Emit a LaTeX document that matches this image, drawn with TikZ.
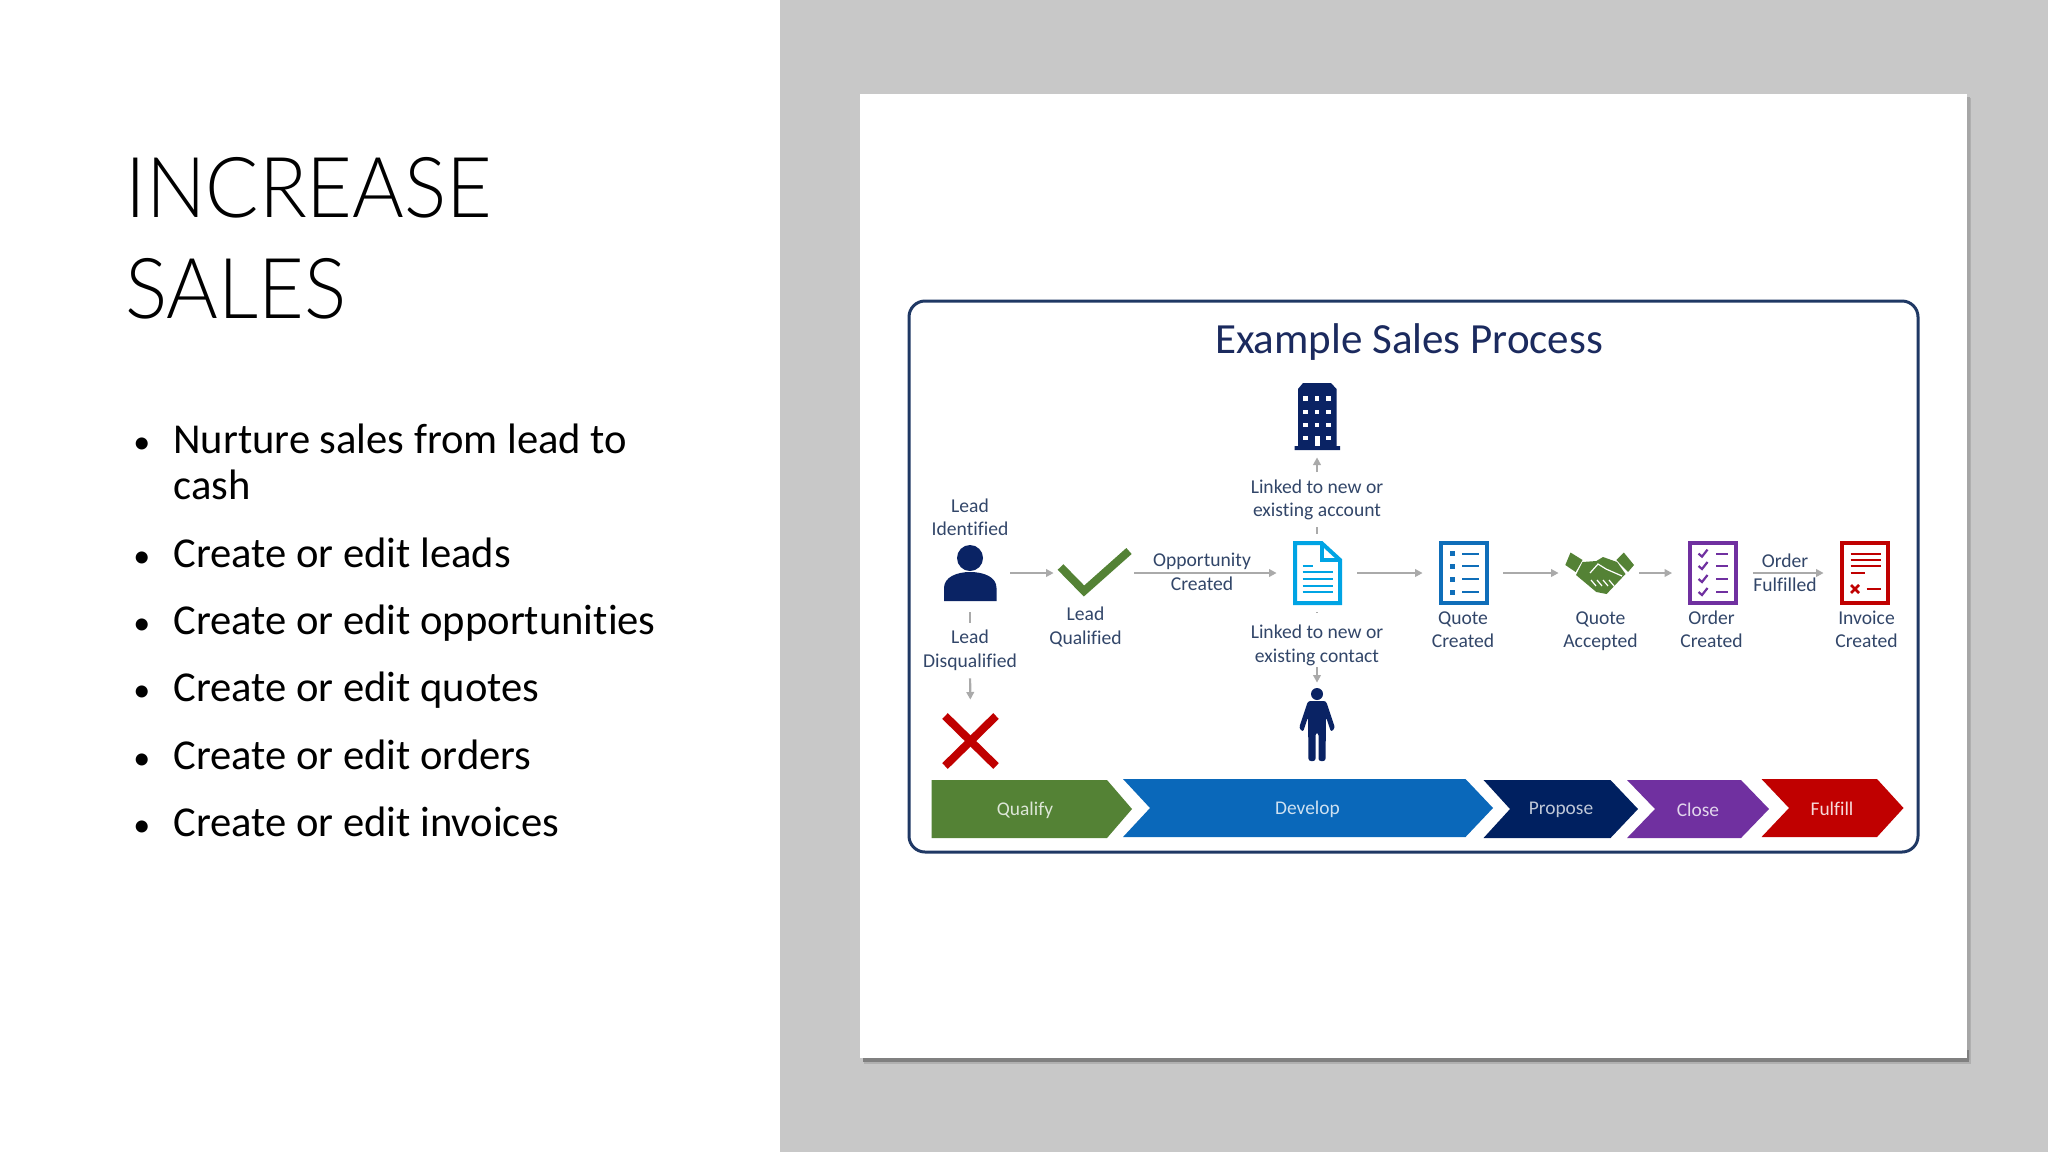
\documentclass[tikz,border=0pt]{standalone}
\usepackage{fontspec}
\setmainfont{Carlito}[Ligatures=NoCommon]
\newfontfamily\lightfont{Lato Light}[Ligatures=NoCommon,FakeStretch=0.94]
\usetikzlibrary{arrows.meta}
\definecolor{panelgrey}{RGB}{200,200,200}
\definecolor{framenavy}{RGB}{31,56,100}
\definecolor{titlenavy}{RGB}{27,42,94}
\definecolor{labelnavy}{RGB}{50,70,105}
\definecolor{iconnavy}{RGB}{10,35,100}
\definecolor{flowgrey}{RGB}{170,170,170}
\definecolor{leafgreen}{RGB}{84,130,53}
\definecolor{docblue}{RGB}{0,164,228}
\definecolor{quoteblue}{RGB}{15,110,185}
\definecolor{stageblue}{RGB}{10,104,186}
\definecolor{stagenavy}{RGB}{0,32,96}
\definecolor{stagepurple}{RGB}{112,48,160}
\definecolor{stagered}{RGB}{192,0,0}
\tikzset{
  stepname/.style={inner sep=0pt,align=center,anchor=base,text=labelnavy,font=\fontsize{9.8}{11.65}\selectfont,text depth=2.5pt,text height=18pt},
  iconbox/.style={inner sep=0pt,minimum height=39pt,minimum width=40pt},
  flow/.style={draw=flowgrey,line width=1.1pt,-{Triangle[length=3.8pt,width=3.8pt]}},
  flowstub/.style={draw=flowgrey,line width=1.1pt},
  stagename/.style={inner sep=0pt,font=\fontsize{9.7}{11}\selectfont},
  slidebullet/.style={inner sep=0pt,anchor=base west,font=\fontsize{21.3}{25}\selectfont},
  slidehead/.style={inner sep=0pt,anchor=base west,font=\lightfont\fontsize{42}{50.5}\selectfont}
}
\begin{document}
\begin{tikzpicture}[x=0.5pt,y=-0.5pt]
\useasboundingbox (0,0) rectangle (2048,1152);
\fill[white] (0,0) rectangle (2048,1152);
\fill[panelgrey] (780,0) rectangle (2048,1152);
\fill[panelgrey!88!black] (864,98) rectangle (1971,1064);
\fill[black!35] (1960,97) rectangle (1970,1060);
\fill[black!50] (863,1050) rectangle (1969,1062);
\fill[white] (860,94) rectangle (1967,1058);
\draw[framenavy,line width=1.5pt,rounded corners=8pt] (909,301) rectangle (1918,852);

\node[slidehead] (slidetitle) at (125,217) {INCREASE};
\node[slidehead] (slidetitlenext) at (125,318) {SALES};
\foreach \ypos/\bullettext in {453/Nurture sales from lead to,567/Create or edit leads,634/Create or edit opportunities,701/Create or edit quotes,769/Create or edit orders,836/Create or edit invoices} {
  \node[slidebullet,font=\fontsize{17}{20}\selectfont] at (133,\ypos) {•};
  \node[slidebullet] at (173,\ypos) {\bullettext};
}
\node[slidebullet] (cashline) at (173,499) {cash};

\node[inner sep=0pt,anchor=base,text=titlenavy,font=\fontsize{21.5}{25}\selectfont] (chart) at (1409,353) {Example Sales Process};

\node[iconbox] (lead) at (970,573) {};
\node[iconbox] (check) at (1094,573) {};
\node[iconbox] (doc) at (1317,573) {};
\node[iconbox] (quote) at (1463,573) {};
\node[iconbox] (hands) at (1599,573) {};
\node[iconbox] (order) at (1712.5,573) {};
\node[iconbox] (invoice) at (1864,573) {};
\node[inner sep=0pt,minimum width=23pt,minimum height=34pt] (building) at (1317,417) {};
\node[inner sep=0pt,minimum width=18pt,minimum height=40pt] (contact) at (1317,723) {};
\node[inner sep=0pt,minimum width=28pt,minimum height=27pt] (cross) at (970.5,741) {};

\node[stepname] (leadnew) at (970,535.5) {Lead\\Identified};
\node[stepname] (leadlost) at (970,667) {Lead\\Disqualified};
\node[stepname] (leadgood) at (1085.5,644) {Lead\\Qualified};
\node[stepname] (oppnew) at (1202,590) {Opportunity\\Created};
\node[stepname] (acctlink) at (1317,516.5) {Linked to new or\\existing account};
\node[stepname] (contlink) at (1317,662) {Linked to new or\\existing contact};
\node[stepname] (quotenew) at (1463,647.5) {Quote\\Created};
\node[stepname] (quotegood) at (1600.5,647.5) {Quote\\Accepted};
\node[stepname] (ordernew) at (1711.5,647.5) {Order\\Created};
\node[stepname] (orderdone) at (1785,591) {Order\\Fulfilled};
\node[stepname] (invoicenew) at (1866.5,647.5) {Invoice\\Created};

\draw[flow] (lead) -- (check);
\draw[flow] (check) -- (doc);
\draw[flow] (doc) -- (quote);
\draw[flow] (quote) -- (hands);
\draw[flow] (hands) -- (order);
\draw[flow] (order) -- (invoice);
\draw[flowstub,shorten >=4pt] (lead.south) -- (leadlost.north);
\draw[flow,shorten <=3pt,shorten >=7pt] (leadlost.south) -- (cross.north);
\draw[flowstub,shorten >=2.5pt] (doc.north) -- (acctlink.south);
\draw[flow,shorten <=4pt,shorten >=3pt] (acctlink.north) -- (building.south);
\draw[flowstub,shorten >=7pt] (doc.south) -- (contlink.north);
\draw[flow] (contlink.south) -- (contact.north);

\fill[iconnavy] (970,558) circle (13);
\fill[iconnavy] (944,601) -- (944,588) .. controls (944,577) and (957,572) .. (970,572) .. controls (984,572) and (996.5,577) .. (996.5,588) -- (996.5,601) -- cycle;
\draw[leafgreen,line width=4pt] (1060.5,567) -- (1084,591) -- (1129,551);
\draw[stagered,line width=4pt] (945,716) -- (996,766);
\draw[stagered,line width=4pt] (996,716) -- (945,766);

\fill[iconnavy] (1294.5,450) -- (1294.5,446) -- (1298,446) -- (1298,389) -- (1303,383) -- (1331,383) -- (1336.5,389) -- (1336.5,446) -- (1340,446) -- (1340,450) -- cycle;
\foreach \wx in {1305.5,1317,1328.5} \foreach \wy in {398.5,412,425,438} \fill[white] (\wx-2.2,\wy-2.2) rectangle (\wx+2.2,\wy+2.2);
\fill[white] (1314.5,436) rectangle (1319.5,446);

\fill[iconnavy] (1317,694) circle (6);
\fill[iconnavy,rounded corners=1.2pt] (1308,701) -- (1326,701) -- (1335,728) -- (1331,732) -- (1326,717) -- (1325.5,761) -- (1318.5,761) -- (1318.5,733) -- (1315.5,733) -- (1315.5,761) -- (1308.5,761) -- (1308,717) -- (1303,732) -- (1299,728) -- cycle;

\draw[docblue,line width=2pt] (1295,543) -- (1321.5,543) -- (1340,560) -- (1340,603) -- (1295,603) -- cycle;
\draw[docblue,line width=2pt] (1321.5,543) -- (1321.5,560) -- (1340,560);
\draw[docblue,line width=1pt] (1302.5,565.5) -- (1312.5,565.5);
\foreach \ly in {572,579,585.5,592} \draw[docblue,line width=1pt] (1302.5,\ly) -- (1333,\ly);

\draw[quoteblue,line width=2pt] (1440.5,543) rectangle (1486.5,603);
\foreach \ly in {553.6,566,579,592} {
  \fill[quoteblue] (1449.5,\ly-2.5) rectangle (1455,\ly+2.5);
  \draw[quoteblue,line width=1pt] (1462,\ly) -- (1478.5,\ly);
}

\fill[leafgreen] (1570.5,552.5) -- (1582.5,560) -- (1575.6,572) -- (1565.3,565) -- cycle;
\fill[leafgreen] (1623.8,552.5) -- (1634,565) -- (1628,572) -- (1616.3,560) -- cycle;
\fill[leafgreen] (1582.5,562) -- (1596.3,561) -- (1603,557) -- (1617,562) -- (1625.5,574) -- (1606.6,594) -- (1596.3,592) -- (1576,575) -- cycle;
\draw[white,line width=0.6pt] (1590,573) -- (1598,564) -- (1606,569) -- (1622,576);
\foreach \fx in {1591,1597,1603,1609} \draw[white,line width=0.6pt] (\fx,580) -- (\fx+5,586);

\draw[stagepurple,line width=2pt] (1690,543) rectangle (1736,603);
\foreach \ly in {553.6,566,579,592} {
  \draw[stagepurple,line width=1.1pt] (1698.5,\ly) -- (1702,\ly+3) -- (1707.5,\ly-4);
  \draw[stagepurple,line width=1pt] (1716,\ly) -- (1728,\ly);
}

\draw[stagered,line width=2pt] (1842,543) rectangle (1888,603);
\foreach \ly in {553.6,560,566} \draw[stagered,line width=1pt] (1850.5,\ly) -- (1880.5,\ly);
\draw[stagered,line width=1pt] (1850.5,573) -- (1865,573);
\draw[stagered,line width=1.3pt] (1851,585) -- (1859,593);
\draw[stagered,line width=1.3pt] (1859,585) -- (1851,593);
\draw[stagered,line width=1pt] (1866.5,589) -- (1880.5,589);

\fill[leafgreen] (931.5,780) -- (1107,780) -- (1132,809) -- (1107,838) -- (931.5,838) -- cycle;
\fill[stageblue] (1123,779) -- (1465.5,779) -- (1493,808) -- (1465.5,837) -- (1123,837) -- (1150,808) -- cycle;
\fill[stagenavy] (1483.5,780) -- (1610.5,780) -- (1638,809) -- (1610.5,838) -- (1483.5,838) -- (1510,809) -- cycle;
\fill[stagepurple] (1627,780) -- (1741,780) -- (1769,809) -- (1741,838) -- (1627,838) -- (1655,809) -- cycle;
\fill[stagered] (1761.5,779) -- (1877,779) -- (1903.5,808) -- (1877,837) -- (1761.5,837) -- (1789,808) -- cycle;
\node[stagename,text=leafgreen!20] (qualify) at (1025,810) {Qualify};
\node[stagename,text=stageblue!20] (develop) at (1307.5,809) {Develop};
\node[stagename,text=stagenavy!25] (propose) at (1561,810) {Propose};
\node[stagename,text=stagepurple!20] (closing) at (1698,810) {Close};
\node[stagename,text=stagered!15] (fulfill) at (1832,809) {Fulfill};
\end{tikzpicture}
\end{document}
